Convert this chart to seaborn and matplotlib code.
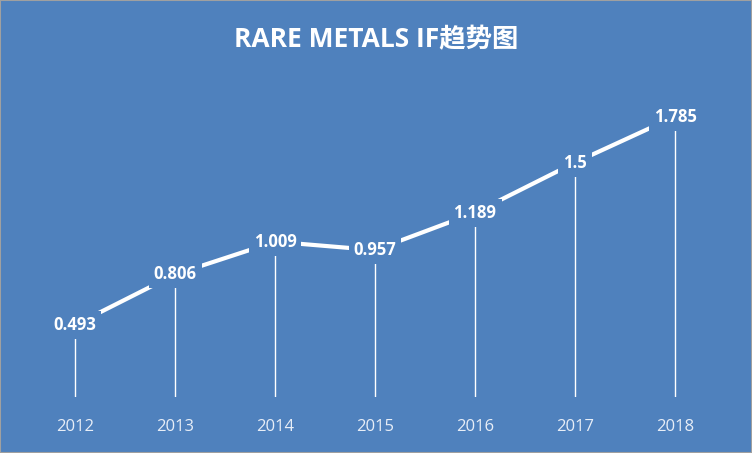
import matplotlib
matplotlib.use("Agg")
import matplotlib.pyplot as plt
import seaborn as sns
import pandas as pd

years = ["2012", "2013", "2014", "2015", "2016", "2017", "2018"]
impact = [0.493, 0.806, 1.009, 0.957, 1.189, 1.5, 1.785]

sns.set_style("white")
plt.rcParams['font.family'] = ['Open Sans', 'Noto Sans CJK SC', 'DejaVu Sans']
bg = "#4F81BD"
df = pd.DataFrame({"x": range(len(years)), "y": impact})

fig = plt.figure(figsize=(7.52, 4.53), dpi=100, facecolor=bg)
ax = fig.add_axes([25/752, 1-397/453, 700/752, 307/453])
ax.set_facecolor(bg)
ymin = 0.046
sns.lineplot(data=df, x="x", y="y", ax=ax, color="white", linewidth=3, zorder=2)
ax.vlines(df["x"], ymin, df["y"], color="white", linewidth=1, zorder=1)
for xi, v in zip(df["x"], impact):
    ax.text(xi, v, f"{v:g}", ha="center", va="center", color="white",
            fontsize=12, fontweight="bold", zorder=3,
            bbox=dict(boxstyle="square,pad=0.3", fc=bg, ec="none"))
ax.set_xlim(-0.5, 6.5)
ax.set_ylim(ymin, 1.95)
ax.set_xticks(range(len(years)))
ax.set_xticklabels(years, color="#E8EEF7", fontsize=12)
ax.tick_params(axis="x", length=0, pad=16)
ax.set_yticks([])
ax.set_xlabel(""); ax.set_ylabel("")
for s in ax.spines.values():
    s.set_visible(False)
fig.text(0.5, 1-40/453, "RARE METALS IF趋势图", ha="center", va="center",
         color="white", fontsize=19, fontweight="bold")
fig.patches.append(plt.Rectangle((0, 0), 1, 1, transform=fig.transFigure,
                                 fill=False, ec="#A0A0A0", lw=1.5))
fig.savefig("out.png", dpi=100, facecolor=bg)
